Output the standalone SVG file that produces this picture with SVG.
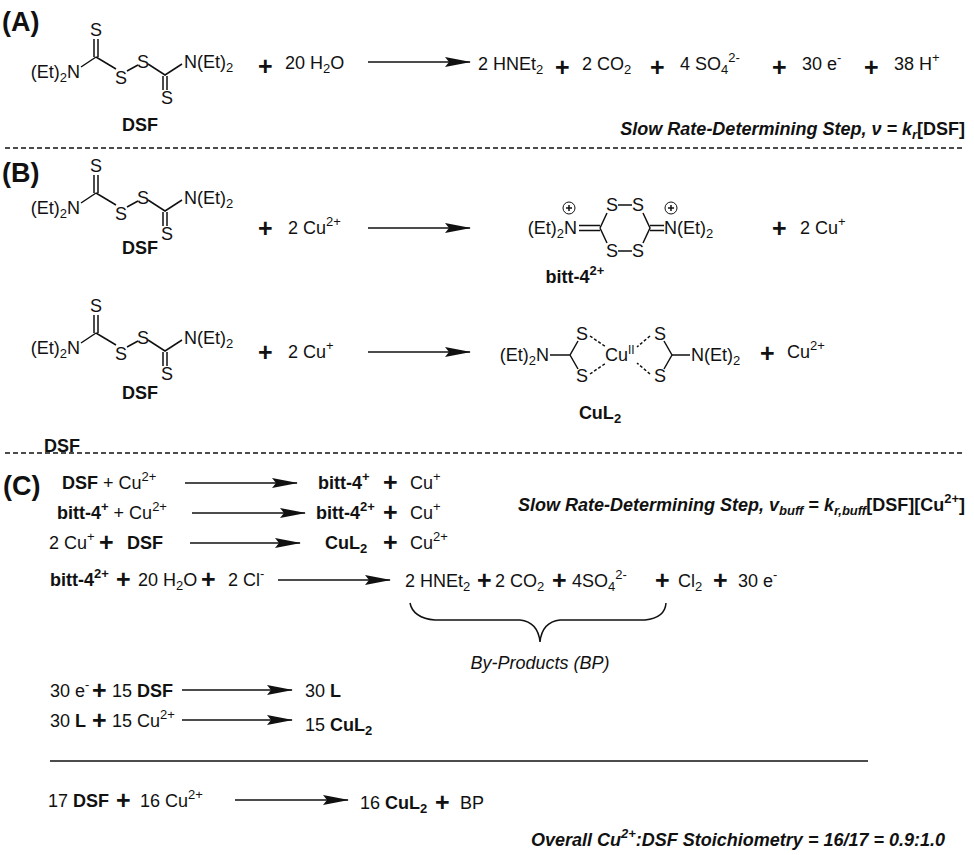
<svg xmlns="http://www.w3.org/2000/svg" width="974" height="855" viewBox="0 0 974 855">
<style>
text{font-family:"Liberation Sans",Arial,sans-serif;font-size:18px;fill:#111}
.b{font-weight:bold}
.i{font-style:italic;font-weight:bold}
.lab{font-size:27px;font-weight:bold}
.p{font-size:25px;font-weight:bold}
.bond{stroke:#111;stroke-width:1.5;fill:none}
.dash{stroke:#111;stroke-width:1.3;stroke-dasharray:5,3}
.arr{stroke:#111;stroke-width:1.6;marker-end:url(#ah)}
</style>
<defs>
<marker id="ah" viewBox="0 0 26 10" refX="25" refY="5" markerWidth="26" markerHeight="10" markerUnits="userSpaceOnUse" orient="auto"><path d="M0,0 L26,5 L0,10 L4,5 Z" fill="#111"/></marker>
<g id="dsf">
<text x="80" y="78" text-anchor="end">(Et)<tspan font-size="13" dy="4">2</tspan><tspan dy="-4">N</tspan></text>
<path class="bond" d="M81,67 L96,57 M94,57 V39 M98,57 V39 M96,57 L116,69 M127,71 L138,65 M148,64 L165,75 L182,64 M163,76 V90 M167,76 V90"/>
<text x="96" y="36" text-anchor="middle">S</text>
<text x="121" y="84" text-anchor="middle">S</text>
<text x="143" y="68" text-anchor="middle">S</text>
<text x="167" y="104" text-anchor="middle">S</text>
<text x="184" y="68">N(Et)<tspan font-size="13" dy="4">2</tspan></text>
</g>
</defs>

<!-- (A) -->
<text x="2" y="31" class="lab">(A)</text>
<g id="dsfA"><use href="#dsf"/></g>
<text x="258" y="75" class="p">+</text>
<text x="285" y="69">20 H<tspan font-size="13" dy="4">2</tspan><tspan dy="-4">O</tspan></text>
<text x="140" y="131" class="b" text-anchor="middle">DSF</text>
<g id="connectors">
<line class="arr" x1="368" y1="62" x2="470" y2="62"/>
<line class="arr" x1="368" y1="228" x2="470" y2="228"/>
<line class="arr" x1="368" y1="352" x2="470" y2="352"/>
<line class="arr" x1="185" y1="483" x2="297" y2="483"/>
<line class="arr" x1="192" y1="513" x2="305" y2="513"/>
<line class="arr" x1="190" y1="543" x2="300" y2="543"/>
<line class="arr" x1="278" y1="580" x2="390" y2="580"/>
<line class="arr" x1="182" y1="690" x2="292" y2="690"/>
<line class="arr" x1="182" y1="720" x2="292" y2="720" stroke-width="1.2"/>
<line class="arr" x1="235" y1="800" x2="348" y2="800"/>
</g>
<g id="prodA">
<text x="478" y="70">2 HNEt<tspan font-size="13" dy="4">2</tspan></text>
<text x="555" y="76" class="p">+</text>
<text x="582" y="70">2 CO<tspan font-size="13" dy="4">2</tspan></text>
<text x="650" y="76" class="p">+</text>
<text x="680" y="70">4 SO<tspan font-size="13" dy="4">4</tspan><tspan font-size="13" dy="-12">2-</tspan></text>
<text x="772" y="76" class="p">+</text>
<text x="802" y="70">30 e<tspan font-size="13" dy="-8">-</tspan></text>
<text x="864" y="76" class="p">+</text>
<text x="894" y="70">38 H<tspan font-size="13" dy="-8">+</tspan></text>
</g>
<text x="965" y="135" class="i" text-anchor="end">Slow Rate-Determining Step, ν = k<tspan font-size="13" dy="4">r</tspan><tspan dy="-4" font-style="normal">[DSF]</tspan></text>
<line class="dash" x1="5" y1="148" x2="965" y2="148"/>

<!-- (B) -->
<text x="2" y="182" class="lab">(B)</text>
<g id="dsfB1"><use href="#dsf" transform="translate(0,136)"/></g>
<text x="140" y="254" class="b" text-anchor="middle">DSF</text>
<text x="258" y="237" class="p">+</text>
<text x="288" y="234">2 Cu<tspan font-size="13" dy="-8">2+</tspan></text>
<g id="bitt42">
<text x="577" y="234" text-anchor="end">(Et)<tspan font-size="13" dy="4">2</tspan><tspan dy="-4">N</tspan></text>
<circle cx="569" cy="208" r="6" fill="none" stroke="#111" stroke-width="1"/><path class="bond" stroke-width="1" d="M566,208 H572 M569,205 V211"/>
<path class="bond" d="M579,225.5 H600 M579,230.5 H600 M600,228 L607,213 M600,228 L607,243 M618,205 H632 M618,251 H632 M643,213 L650,228 L643,243 M650,225.5 H664 M650,230.5 H664"/>
<text x="612" y="211" text-anchor="middle">S</text><text x="638" y="211" text-anchor="middle">S</text>
<text x="612" y="257" text-anchor="middle">S</text><text x="638" y="257" text-anchor="middle">S</text>
<circle cx="671" cy="208" r="6" fill="none" stroke="#111" stroke-width="1"/><path class="bond" stroke-width="1" d="M668,208 H674 M671,205 V211"/>
<text x="664" y="234">N(Et)<tspan font-size="13" dy="4">2</tspan></text>
<text x="575" y="283" class="b" text-anchor="middle">bitt-4<tspan font-size="13" dy="-8">2+</tspan></text>
</g>
<text x="772" y="237" class="p">+</text>
<text x="800" y="234">2 Cu<tspan font-size="13" dy="-8">+</tspan></text>

<g id="dsfB2"><use href="#dsf" transform="translate(0,276)"/></g>
<text x="140" y="399" class="b" text-anchor="middle">DSF</text>
<text x="258" y="361" class="p">+</text>
<text x="288" y="358">2 Cu<tspan font-size="13" dy="-8">+</tspan></text>
<g id="cul2">
<text x="549" y="361" text-anchor="end">(Et)<tspan font-size="13" dy="4">2</tspan><tspan dy="-4">N</tspan></text>
<path class="bond" d="M550,355 H570 L578,341 M570,355 L578,369 M672,355 L664,341 M672,355 L664,369 M672,355 H690"/>
<path class="bond" stroke-dasharray="3,2" stroke-width="1.2" d="M590,336 L606,347 M590,374 L606,363 M650,336 L637,347 M650,374 L637,363"/>
<text x="582" y="340" text-anchor="middle">S</text><text x="582" y="382" text-anchor="middle">S</text>
<text x="660" y="340" text-anchor="middle">S</text><text x="660" y="382" text-anchor="middle">S</text>
<text x="605" y="361">Cu<tspan font-size="12" dy="-7">II</tspan></text>
<text x="691" y="361">N(Et)<tspan font-size="13" dy="4">2</tspan></text>
<text x="600" y="419" class="b" text-anchor="middle">CuL<tspan font-size="13" dy="4">2</tspan></text>
</g>
<text x="760" y="362" class="p">+</text>
<text x="787" y="358">Cu<tspan font-size="13" dy="-8">2+</tspan></text>

<text x="44" y="452" class="b">DSF</text>
<line class="dash" x1="5" y1="453" x2="965" y2="453"/>

<!-- (C) -->
<text x="3" y="495" class="lab">(C)</text>
<text x="62" y="489"><tspan class="b">DSF</tspan> + Cu<tspan font-size="13" dy="-8">2+</tspan></text>
<text x="318" y="489" class="b">bitt-4<tspan font-size="13" dy="-8">+</tspan></text>
<text x="383" y="491" class="p">+</text>
<text x="410" y="489">Cu<tspan font-size="13" dy="-8">+</tspan></text>

<text x="57" y="519"><tspan class="b">bitt-4<tspan font-size="13" dy="-8">+</tspan></tspan><tspan dy="8"> + Cu</tspan><tspan font-size="13" dy="-8">2+</tspan></text>
<text x="316" y="519" class="b">bitt-4<tspan font-size="13" dy="-8">2+</tspan></text>
<text x="383" y="521" class="p">+</text>
<text x="410" y="519">Cu<tspan font-size="13" dy="-8">+</tspan></text>

<text x="49" y="549">2 Cu<tspan font-size="13" dy="-8">+</tspan></text>
<text x="99" y="551" class="p">+</text>
<text x="127" y="549" class="b">DSF</text>
<text x="325" y="549" class="b">CuL<tspan font-size="13" dy="4">2</tspan></text>
<text x="383" y="551" class="p">+</text>
<text x="410" y="549">Cu<tspan font-size="13" dy="-8">2+</tspan></text>

<text x="50" y="586" class="b">bitt-4<tspan font-size="13" dy="-8">2+</tspan></text>
<text x="116" y="588" class="p">+</text>
<text x="138" y="586">20 H<tspan font-size="13" dy="4">2</tspan><tspan dy="-4">O</tspan></text>
<text x="201" y="588" class="p">+</text>
<text x="228" y="586">2 Cl<tspan font-size="13" dy="-8">-</tspan></text>

<g id="prodC">
<text x="405" y="587">2 HNEt<tspan font-size="13" dy="4">2</tspan></text>
<text x="477" y="589" class="p">+</text>
<text x="495" y="587">2 CO<tspan font-size="13" dy="4">2</tspan></text>
<text x="552" y="589" class="p">+</text>
<text x="572" y="587">4SO<tspan font-size="13" dy="4">4</tspan><tspan font-size="13" dy="-12">2-</tspan></text>
<text x="655" y="589" class="p">+</text>
<text x="678" y="587">Cl<tspan font-size="13" dy="4">2</tspan></text>
<text x="713" y="589" class="p">+</text>
<text x="738" y="587">30 e<tspan font-size="13" dy="-8">-</tspan></text>
</g>
<path class="bond" d="M410,603 Q413,618 435,620 L520,620 Q538,622 540,642 Q542,622 560,620 L645,620 Q665,618 666,603"/>
<text x="540" y="669" text-anchor="middle" font-style="italic">By-Products (BP)</text>
<text x="965" y="511" class="i" text-anchor="end">Slow Rate-Determining Step, v<tspan font-size="13" dy="4">buff</tspan><tspan dy="-4" font-style="normal"> = </tspan>k<tspan font-size="13" dy="4">r,buff</tspan><tspan dy="-4" font-style="normal">[DSF][Cu<tspan font-size="13" dy="-8">2+</tspan><tspan dy="8">]</tspan></tspan></text>

<text x="50" y="697">30 e<tspan font-size="13" dy="-8">-</tspan></text>
<text x="92" y="699" class="p">+</text>
<text x="112" y="697">15 <tspan class="b">DSF</tspan></text>
<text x="305" y="697">30 <tspan class="b">L</tspan></text>
<text x="50" y="727">30 <tspan class="b">L</tspan></text>
<text x="92" y="729" class="p">+</text>
<text x="112" y="727">15 Cu<tspan font-size="13" dy="-8">2+</tspan></text>
<text x="305" y="731">15 <tspan class="b">CuL<tspan font-size="13" dy="4">2</tspan></tspan></text>
<line x1="50" y1="761" x2="868" y2="761" stroke="#111" stroke-width="1.5"/>
<text x="48" y="807">17 <tspan class="b">DSF</tspan></text>
<text x="116" y="809" class="p">+</text>
<text x="140" y="807">16 Cu<tspan font-size="13" dy="-8">2+</tspan></text>
<text x="360" y="809">16 <tspan class="b">CuL<tspan font-size="13" dy="4">2</tspan></tspan></text>
<text x="435" y="811" class="p">+</text>
<text x="460" y="809">BP</text>
<text x="945" y="846" class="i" text-anchor="end">Overall Cu<tspan font-size="13" dy="-8">2+</tspan><tspan dy="8">:DSF Stoichiometry = 16/17 = 0.9:1.0</tspan></text>
</svg>
